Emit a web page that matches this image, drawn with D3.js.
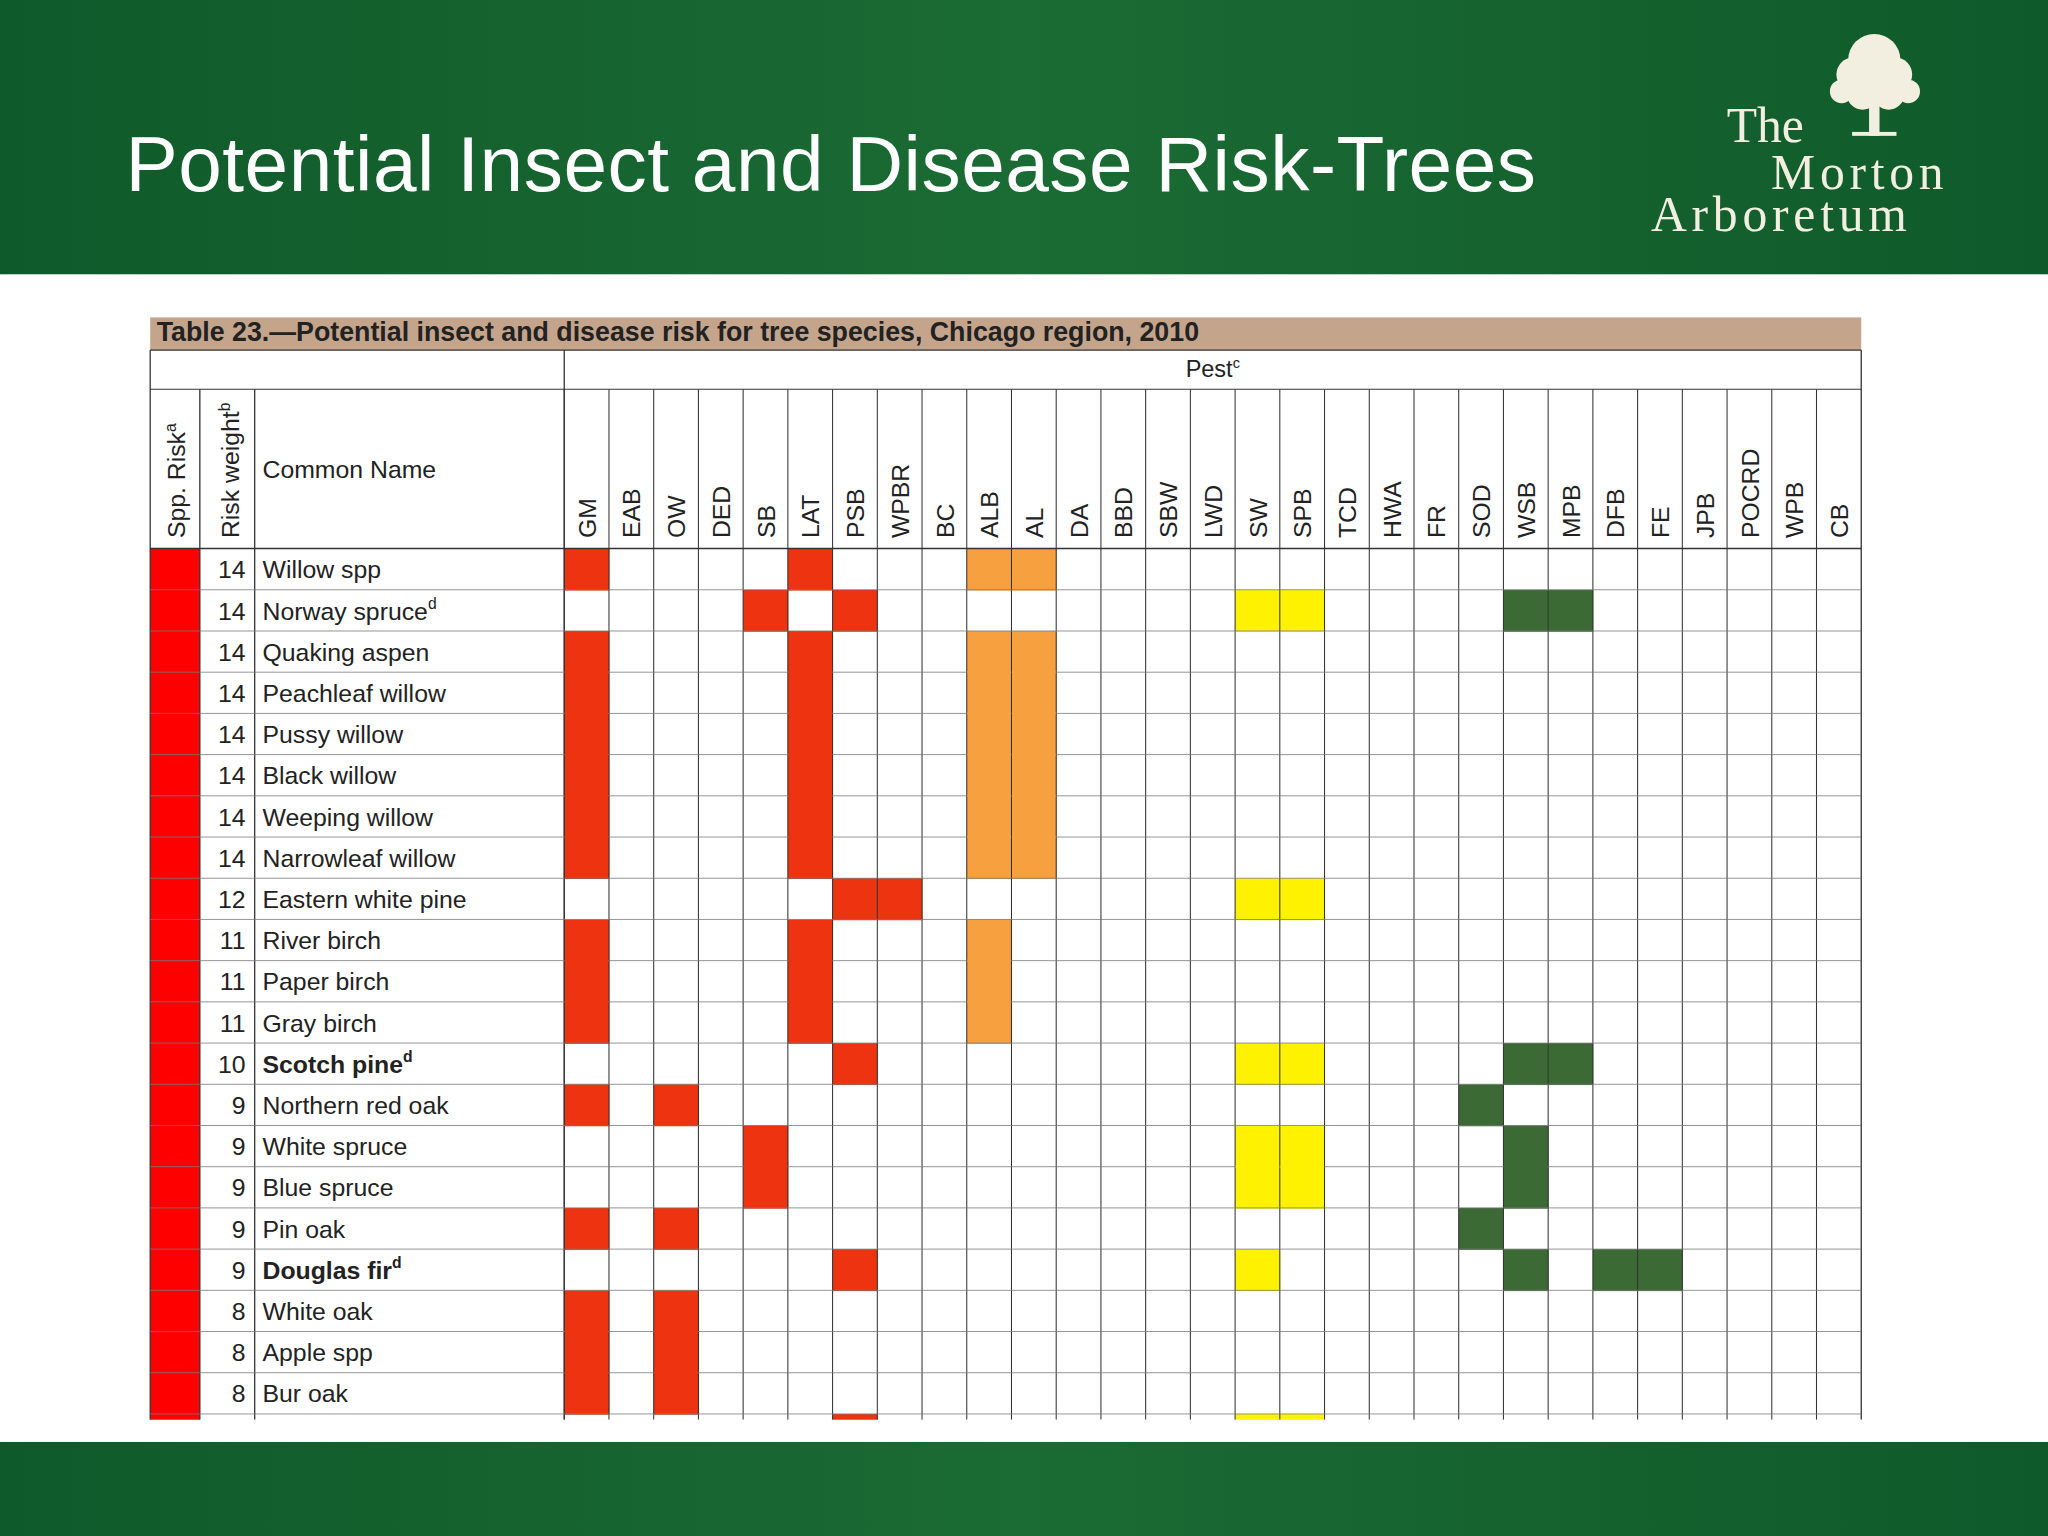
<!DOCTYPE html>
<html><head><meta charset="utf-8">
<script src="https://cdn.jsdelivr.net/npm/d3@7"></script>
<style>body{margin:0;background:#fff}svg{display:block}</style>
</head><body>
<script>
const pests = ["GM","EAB","OW","DED","SB","LAT","PSB","WPBR","BC","ALB","AL","DA","BBD","SBW","LWD","SW","SPB","TCD","HWA","FR","SOD","WSB","MPB","DFB","FE","JPB","POCRD","WPB","CB"];
const names = ["Willow spp","Norway spruce","Quaking aspen","Peachleaf willow","Pussy willow","Black willow","Weeping willow","Narrowleaf willow","Eastern white pine","River birch","Paper birch","Gray birch","Scotch pine","Northern red oak","White spruce","Blue spruce","Pin oak","Douglas fir","White oak","Apple spp","Bur oak",""];
const weights = [14,14,14,14,14,14,14,14,12,11,11,11,10,9,9,9,9,9,8,8,8,""];
const supD = ["Norway spruce","Scotch pine","Douglas fir"];
const boldNames = ["Scotch pine","Douglas fir"];
const willowSet = ["GM","LAT","ALB","AL"];
const risks = [willowSet,["SB","PSB","SW","SPB","WSB","MPB"],willowSet,willowSet,willowSet,willowSet,willowSet,willowSet,
 ["PSB","WPBR","SW","SPB"],["GM","LAT","ALB"],["GM","LAT","ALB"],["GM","LAT","ALB"],
 ["PSB","SW","SPB","WSB","MPB"],["GM","OW","SOD"],["SB","SW","SPB","WSB"],["SB","SW","SPB","WSB"],
 ["GM","OW","SOD"],["PSB","SW","WSB","DFB","FE"],["GM","OW"],["GM","OW"],["GM","OW"],["PSB","SW","SPB"]];
const pestColor = {GM:"#ee3311",OW:"#ee3311",SB:"#ee3311",LAT:"#ee3311",PSB:"#ee3311",WPBR:"#ee3311",ALB:"#f7a040",AL:"#f7a040",SW:"#fff200",SPB:"#fff200",SOD:"#3b6a35",WSB:"#3b6a35",MPB:"#3b6a35",DFB:"#3b6a35",FE:"#3b6a35"};

const svg = d3.select("body").append("svg").attr("width",2048).attr("height",1536).attr("viewBox","0 0 1568 1176");
const g1 = svg.append("defs").append("linearGradient").attr("id","gb").attr("x1",0).attr("x2",1);
g1.append("stop").attr("offset","0").attr("stop-color","#0f5a2a");
g1.append("stop").attr("offset","0.5").attr("stop-color","#1b6b34");
g1.append("stop").attr("offset","1").attr("stop-color","#0f5a2a");
svg.append("rect").attr("width",1568).attr("height",210).attr("fill","url(#gb)");
svg.append("rect").attr("y",1104).attr("width",1568).attr("height",72).attr("fill","url(#gb)");
svg.append("text").attr("x",96).attr("y",146).attr("fill","#fff").attr("font-family","Liberation Sans, Arial").attr("font-size",60).attr("textLength",1080).text("Potential Insect and Disease Risk-Trees");
const lg = svg.append("g").attr("fill","#f3efe0").attr("font-family","Liberation Serif, DejaVu Serif, serif").attr("font-size",38);
lg.append("text").attr("x",1322).attr("y",109).text("The");
lg.append("text").attr("x",1356).attr("y",145).attr("textLength",132).text("Morton");
lg.append("text").attr("x",1264).attr("y",177).attr("textLength",196).text("Arboretum");
const tr = svg.append("g").attr("fill","#f3efe0");
[[1435,46,20],[1419,57,13],[1451,57,13],[1426,72,12],[1446,72,12],[1410,70,9],[1461,70,9]].forEach(c=>tr.append("circle").attr("cx",c[0]).attr("cy",c[1]).attr("r",c[2]));
tr.append("rect").attr("x",1431).attr("y",66).attr("width",8).attr("height",38);
tr.append("rect").attr("x",1418).attr("y",101).attr("width",34).attr("height",3);

const x0=115,x1=153,x2=195,x3=432,xR=1425;
const yTop=420,rowH=31.55;
const xp = d3.scaleBand().domain(pests).range([x3,xR]);
const yr = d3.scaleLinear().domain([0,1]).range([yTop,yTop+rowH]);
const clipBottom=1087;
svg.append("clipPath").attr("id","cl").append("rect").attr("x",0).attr("y",0).attr("width",1568).attr("height",clipBottom);
const T = svg.append("g").attr("clip-path","url(#cl)");
T.append("rect").attr("x",x0).attr("y",243).attr("width",xR-x0).attr("height",25).attr("fill","#c4a58c");
T.append("text").attr("x",120).attr("y",261).attr("font-family","Liberation Sans, Arial").attr("font-weight","bold").attr("font-size",20.5).attr("fill","#222").text("Table 23.—Potential insect and disease risk for tree species, Chicago region, 2010");
const line=(a,b,c,d,w)=>T.append("line").attr("x1",a).attr("y1",b).attr("x2",c).attr("y2",d).attr("stroke","#333").attr("stroke-width",w||1);
const nR=names.length;
T.selectAll(".spp").data(d3.range(nR)).join("rect").attr("x",x0).attr("y",i=>yr(i)).attr("width",x1-x0).attr("height",rowH+0.6).attr("fill","#ff0000");
risks.forEach((r,i)=>{
  T.selectAll(null).data(r).join("rect").attr("x",p=>xp(p)).attr("y",yr(i)).attr("width",xp.bandwidth()+0.3).attr("height",rowH+0.6).attr("fill",p=>pestColor[p]);
});
line(x0,268,x0,clipBottom); line(x3,268,x3,clipBottom); line(xR,268,xR,clipBottom);
line(x1,298,x1,clipBottom); line(x2,298,x2,clipBottom);
pests.forEach(p=>line(xp(p),298,xp(p),clipBottom,0.8));
line(x0,268,xR,268); line(x0,298,xR,298,0.8); line(x0,yTop,xR,yTop,1.2);
for(let i=1;i<=nR;i++){ line(x0,yr(i),xR,yr(i),0.6).attr("stroke","#777"); }
risks.forEach((r,i)=>{
  r.forEach(p=>{ if(i+1<risks.length && risks[i+1].includes(p)) T.append("rect").attr("x",xp(p)+0.5).attr("y",yr(i+1)-1).attr("width",xp.bandwidth()-1).attr("height",2).attr("fill",pestColor[p]); });
});
const F="Liberation Sans, Arial";
T.append("text").attr("x",(x3+xR)/2).attr("y",289).attr("text-anchor","middle").attr("font-family",F).attr("font-size",18).attr("fill","#222").html("Pest<tspan dy='-7' font-size='11'>c</tspan>");
T.append("text").attr("x",201).attr("y",366).attr("font-family",F).attr("font-size",19).attr("fill","#222").text("Common Name");
const vt=(x,txt,sup)=>{const t=T.append("text").attr("transform",`translate(${x},412) rotate(-90)`).attr("font-family",F).attr("font-size",19).attr("fill","#222").text(txt); if(sup) t.append("tspan").attr("dy",-7).attr("font-size",12).text(sup);};
vt(142,"Spp. Risk","a"); vt(183,"Risk weight","b");
pests.forEach(p=>vt(xp(p)+xp.bandwidth()/2+7,p));
names.forEach((n,i)=>{
  const y=yr(i)+rowH/2+7;
  T.append("text").attr("x",188).attr("y",y).attr("text-anchor","end").attr("font-family",F).attr("font-size",19).attr("fill","#222").text(weights[i]);
  const t=T.append("text").attr("x",201).attr("y",y).attr("font-family",F).attr("font-size",19).attr("fill","#222").attr("font-weight",boldNames.includes(n)?"bold":"normal").text(n);
  if(supD.includes(n)) t.append("tspan").attr("dy",-8).attr("font-size",12).text("d");
});
</script>
</body></html>
